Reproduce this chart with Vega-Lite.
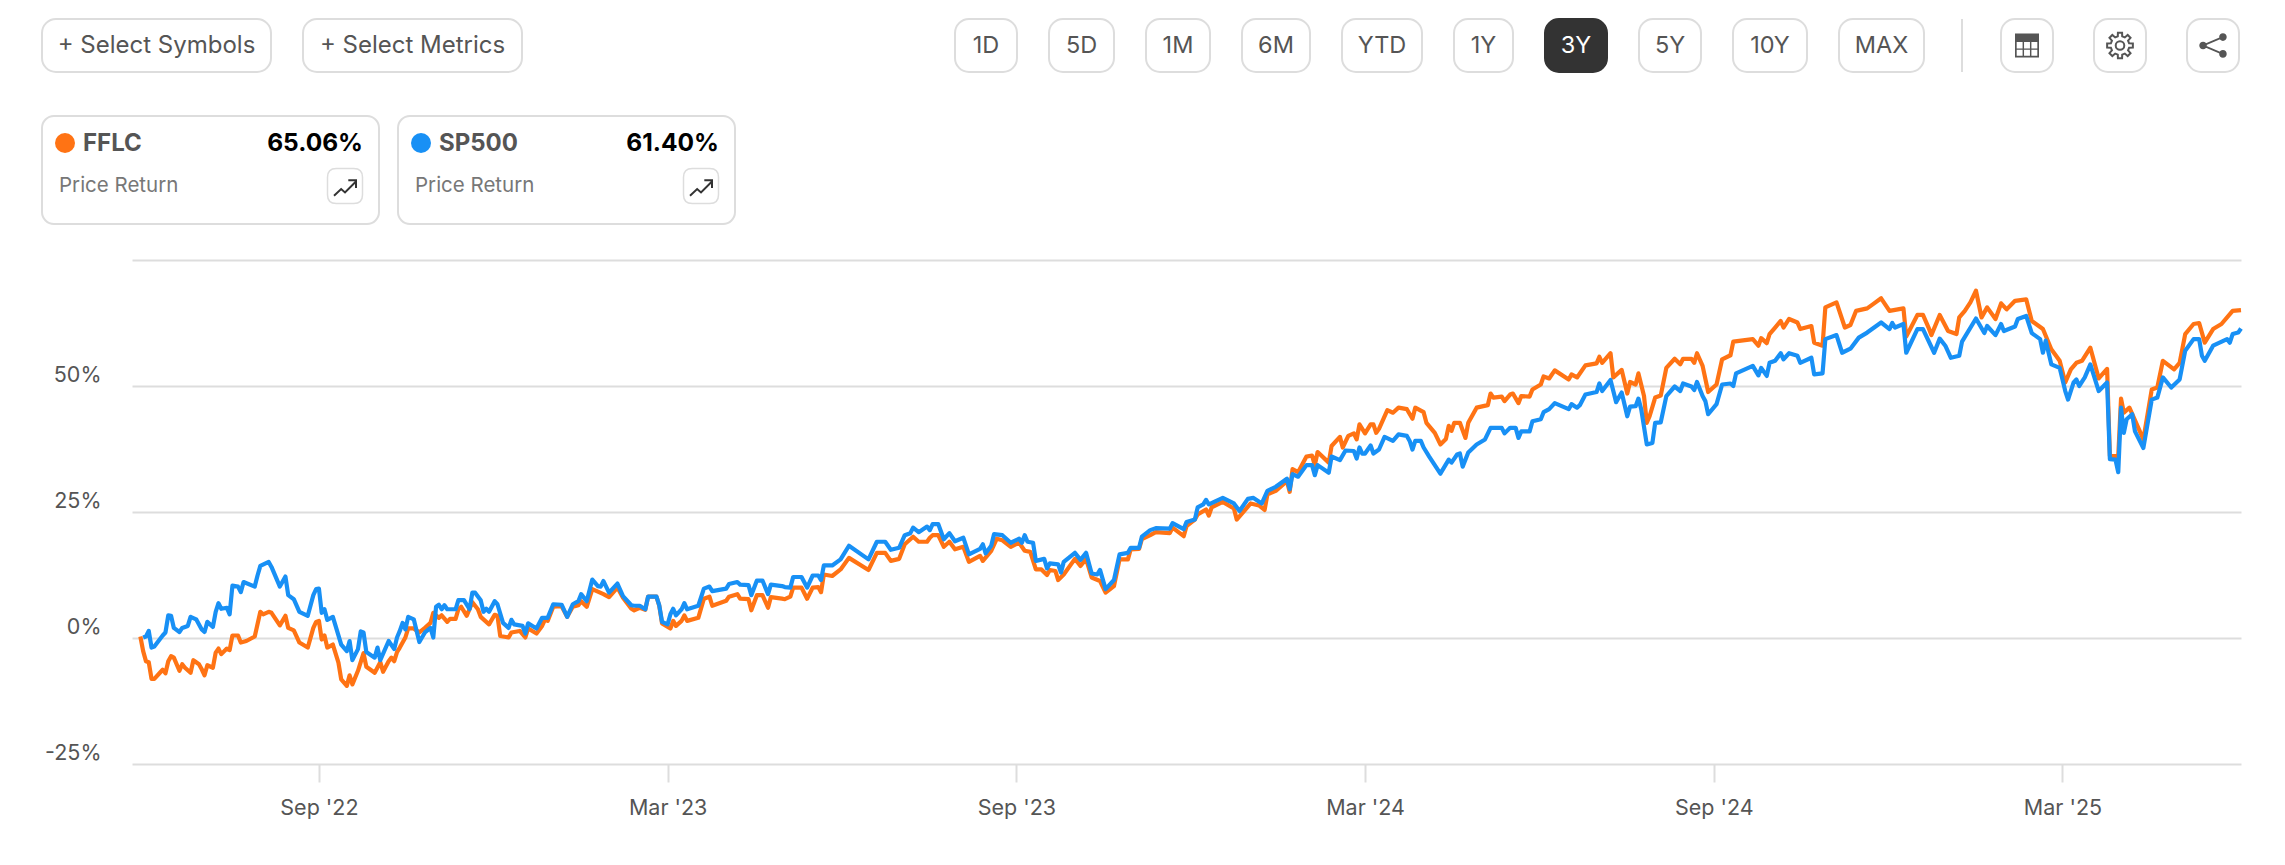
{
"$schema":"https://vega.github.io/schema/vega-lite/v6.json",
"background":"#ffffff",
"padding":{"left":41,"top":18,"right":0,"bottom":0},
"spacing":42,
"datasets":{
"fflc":[{"day":3,"ret":0.3},{"day":4,"ret":-2.6},{"day":5,"ret":-4.6},{"day":6,"ret":-4.8},{"day":7,"ret":-8.1},{"day":8,"ret":-8.1},{"day":10,"ret":-6.9},{"day":11,"ret":-6.3},{"day":12,"ret":-7},{"day":13,"ret":-4.6},{"day":14,"ret":-3.6},{"day":15,"ret":-3.9},{"day":17,"ret":-6.5},{"day":18,"ret":-5.2},{"day":19,"ret":-5.9},{"day":21,"ret":-6.9},{"day":22,"ret":-4.4},{"day":24,"ret":-5.2},{"day":25,"ret":-6.2},{"day":26,"ret":-7.4},{"day":27,"ret":-5.4},{"day":29,"ret":-5.9},{"day":30,"ret":-2.9},{"day":31,"ret":-2.1},{"day":32,"ret":-3.2},{"day":34,"ret":-2.1},{"day":35,"ret":-2.4},{"day":36,"ret":0.5},{"day":38,"ret":0.5},{"day":39,"ret":-0.9},{"day":41,"ret":-0.6},{"day":44,"ret":0.3},{"day":46,"ret":5.2},{"day":47,"ret":4.7},{"day":49,"ret":5.2},{"day":50,"ret":5},{"day":53,"ret":2.5},{"day":55,"ret":4.4},{"day":56,"ret":2},{"day":58,"ret":1.5},{"day":60,"ret":-0.9},{"day":63,"ret":-1.9},{"day":65,"ret":2},{"day":66,"ret":3.2},{"day":67,"ret":3.4},{"day":68,"ret":-0.3},{"day":69,"ret":0.5},{"day":70,"ret":-1.9},{"day":72,"ret":-1.3},{"day":74,"ret":-4.9},{"day":75,"ret":-8.2},{"day":77,"ret":-9.5},{"day":78,"ret":-7.4},{"day":79,"ret":-9.2},{"day":81,"ret":-6.5},{"day":83,"ret":-3},{"day":84,"ret":-5.7},{"day":87,"ret":-6.9},{"day":89,"ret":-4.8},{"day":90,"ret":-6.7},{"day":92,"ret":-4.6},{"day":93,"ret":-3.9},{"day":94,"ret":-4.6},{"day":95,"ret":-2.8},{"day":96,"ret":-1.9},{"day":98,"ret":0.1},{"day":99,"ret":1.9},{"day":101,"ret":1.9},{"day":103,"ret":1.1},{"day":105,"ret":2},{"day":107,"ret":3},{"day":108,"ret":5},{"day":110,"ret":4},{"day":111,"ret":4.5},{"day":113,"ret":3.2},{"day":114,"ret":3.8},{"day":116,"ret":3.8},{"day":117,"ret":5.7},{"day":118,"ret":6.2},{"day":120,"ret":4.4},{"day":122,"ret":7.1},{"day":124,"ret":5.7},{"day":125,"ret":4.2},{"day":128,"ret":2.7},{"day":130,"ret":4.6},{"day":131,"ret":4.4},{"day":132,"ret":0.4},{"day":135,"ret":0.1},{"day":136,"ret":1.1},{"day":139,"ret":1.4},{"day":141,"ret":0.1},{"day":142,"ret":1.9},{"day":145,"ret":0.9},{"day":147,"ret":2.4},{"day":148,"ret":3.6},{"day":149,"ret":3.4},{"day":151,"ret":6.2},{"day":154,"ret":6.3},{"day":156,"ret":4.2},{"day":158,"ret":6.2},{"day":160,"ret":6.5},{"day":161,"ret":7.3},{"day":163,"ret":6.2},{"day":165,"ret":9.7},{"day":169,"ret":8.7},{"day":171,"ret":8.1},{"day":174,"ret":10},{"day":176,"ret":8},{"day":179,"ret":5.8},{"day":180,"ret":5.5},{"day":182,"ret":6},{"day":184,"ret":5.6},{"day":185,"ret":8.2},{"day":188,"ret":8.2},{"day":189,"ret":6.4},{"day":190,"ret":2.9},{"day":193,"ret":1.9},{"day":194,"ret":3.4},{"day":195,"ret":2.4},{"day":197,"ret":3.4},{"day":198,"ret":4.5},{"day":199,"ret":3.4},{"day":203,"ret":4},{"day":205,"ret":7.8},{"day":207,"ret":8.2},{"day":208,"ret":6.4},{"day":213,"ret":7.4},{"day":214,"ret":8.2},{"day":217,"ret":8.7},{"day":218,"ret":7.8},{"day":221,"ret":7.7},{"day":222,"ret":5.5},{"day":224,"ret":8.5},{"day":226,"ret":8.5},{"day":228,"ret":6},{"day":229,"ret":8.1},{"day":233,"ret":7.8},{"day":234,"ret":7.7},{"day":236,"ret":8.2},{"day":237,"ret":10},{"day":240,"ret":10},{"day":242,"ret":7.8},{"day":244,"ret":10},{"day":246,"ret":10.1},{"day":247,"ret":9.1},{"day":248,"ret":12.6},{"day":251,"ret":12.3},{"day":254,"ret":13.6},{"day":257,"ret":15.9},{"day":264,"ret":13.5},{"day":267,"ret":16.9},{"day":270,"ret":16.9},{"day":272,"ret":15.3},{"day":275,"ret":15.7},{"day":277,"ret":18.6},{"day":280,"ret":20.1},{"day":282,"ret":19.1},{"day":285,"ret":19.1},{"day":286,"ret":19.9},{"day":287,"ret":20.4},{"day":289,"ret":20.4},{"day":291,"ret":18.1},{"day":293,"ret":19.1},{"day":295,"ret":17.6},{"day":298,"ret":18.1},{"day":300,"ret":15.1},{"day":304,"ret":16.3},{"day":305,"ret":15.3},{"day":308,"ret":17.3},{"day":310,"ret":19.7},{"day":312,"ret":19.4},{"day":315,"ret":18.1},{"day":318,"ret":18.9},{"day":320,"ret":17.3},{"day":322,"ret":17.1},{"day":324,"ret":13.6},{"day":326,"ret":13.6},{"day":328,"ret":12.5},{"day":329,"ret":13.5},{"day":331,"ret":13.3},{"day":332,"ret":11.5},{"day":334,"ret":12.6},{"day":338,"ret":15.7},{"day":340,"ret":14.3},{"day":342,"ret":15.7},{"day":344,"ret":12},{"day":347,"ret":11.3},{"day":349,"ret":9},{"day":352,"ret":10.3},{"day":354,"ret":15.6},{"day":357,"ret":15.6},{"day":358,"ret":17.6},{"day":361,"ret":17.7},{"day":362,"ret":19.6},{"day":365,"ret":20.4},{"day":367,"ret":21},{"day":372,"ret":20.8},{"day":373,"ret":21.9},{"day":377,"ret":20.2},{"day":378,"ret":22.2},{"day":381,"ret":23.5},{"day":382,"ret":24.5},{"day":385,"ret":25.5},{"day":386,"ret":24.3},{"day":387,"ret":25.9},{"day":391,"ret":27},{"day":395,"ret":25.7},{"day":396,"ret":23.5},{"day":401,"ret":26.7},{"day":404,"ret":26.3},{"day":406,"ret":25.4},{"day":407,"ret":28.5},{"day":410,"ret":29.2},{"day":414,"ret":31.1},{"day":415,"ret":29},{"day":416,"ret":33.5},{"day":418,"ret":32.9},{"day":421,"ret":36},{"day":423,"ret":36.2},{"day":424,"ret":34.3},{"day":425,"ret":36.9},{"day":429,"ret":34.8},{"day":430,"ret":38.1},{"day":433,"ret":39.9},{"day":434,"ret":37.8},{"day":436,"ret":40.1},{"day":438,"ret":40.6},{"day":439,"ret":39.4},{"day":440,"ret":42.4},{"day":442,"ret":40.6},{"day":444,"ret":42.4},{"day":445,"ret":42.4},{"day":446,"ret":40.7},{"day":447,"ret":41.5},{"day":450,"ret":45.2},{"day":452,"ret":44.7},{"day":454,"ret":45.7},{"day":457,"ret":45.4},{"day":459,"ret":43.5},{"day":460,"ret":45.7},{"day":463,"ret":44.8},{"day":464,"ret":42.7},{"day":467,"ret":40.7},{"day":469,"ret":38.4},{"day":471,"ret":39.5},{"day":472,"ret":42.1},{"day":473,"ret":41.1},{"day":474,"ret":42.7},{"day":476,"ret":42.7},{"day":478,"ret":39.7},{"day":479,"ret":42.7},{"day":482,"ret":45.7},{"day":486,"ret":46.2},{"day":487,"ret":48.5},{"day":488,"ret":47.7},{"day":491,"ret":47.9},{"day":492,"ret":47},{"day":494,"ret":48.3},{"day":495,"ret":48.5},{"day":497,"ret":46.6},{"day":498,"ret":48},{"day":501,"ret":47.9},{"day":502,"ret":49.3},{"day":505,"ret":50.3},{"day":506,"ret":51.9},{"day":508,"ret":51.5},{"day":510,"ret":53.1},{"day":515,"ret":51.3},{"day":516,"ret":52.3},{"day":518,"ret":51.7},{"day":521,"ret":54.1},{"day":525,"ret":54.5},{"day":526,"ret":55.8},{"day":527,"ret":54.6},{"day":530,"ret":56.5},{"day":531,"ret":51.7},{"day":534,"ret":53.2},{"day":536,"ret":48.5},{"day":537,"ret":50.8},{"day":539,"ret":50.3},{"day":540,"ret":52.5},{"day":542,"ret":48},{"day":543,"ret":42.7},{"day":544,"ret":44},{"day":546,"ret":47.7},{"day":548,"ret":48.1},{"day":550,"ret":53.6},{"day":553,"ret":55.4},{"day":555,"ret":54.3},{"day":556,"ret":55.4},{"day":559,"ret":55.4},{"day":560,"ret":54.6},{"day":561,"ret":56.5},{"day":563,"ret":54},{"day":565,"ret":48.8},{"day":568,"ret":50.3},{"day":570,"ret":55.3},{"day":573,"ret":56.1},{"day":574,"ret":58.8},{"day":581,"ret":59.3},{"day":583,"ret":58},{"day":584,"ret":59.5},{"day":586,"ret":58.5},{"day":587,"ret":60.3},{"day":589,"ret":61.6},{"day":591,"ret":62.9},{"day":592,"ret":61.6},{"day":594,"ret":63.3},{"day":597,"ret":62.6},{"day":598,"ret":61.3},{"day":602,"ret":61.9},{"day":603,"ret":58.6},{"day":606,"ret":58},{"day":607,"ret":65.6},{"day":611,"ret":66.6},{"day":614,"ret":61.6},{"day":616,"ret":62.1},{"day":618,"ret":64.9},{"day":622,"ret":65.4},{"day":624,"ret":66.2},{"day":627,"ret":67.4},{"day":630,"ret":64.9},{"day":635,"ret":65.4},{"day":636,"ret":59.8},{"day":640,"ret":64.1},{"day":642,"ret":64.1},{"day":644,"ret":61.6},{"day":645,"ret":60.1},{"day":648,"ret":64.1},{"day":651,"ret":60.9},{"day":654,"ret":60.3},{"day":655,"ret":63.6},{"day":657,"ret":64.9},{"day":659,"ret":66.6},{"day":661,"ret":68.9},{"day":663,"ret":63.6},{"day":665,"ret":65.6},{"day":668,"ret":63.3},{"day":670,"ret":66.4},{"day":672,"ret":65.2},{"day":675,"ret":66.9},{"day":679,"ret":67.2},{"day":681,"ret":62.9},{"day":685,"ret":61.3},{"day":688,"ret":57.3},{"day":691,"ret":55},{"day":693,"ret":50.7},{"day":695,"ret":53.3},{"day":697,"ret":54.6},{"day":699,"ret":55},{"day":702,"ret":57.6},{"day":705,"ret":51.5},{"day":708,"ret":53.4},{"day":709,"ret":36.1},{"day":712,"ret":36.1},{"day":713,"ret":47.5},{"day":714,"ret":44.7},{"day":716,"ret":45.7},{"day":721,"ret":39.4},{"day":724,"ret":49.3},{"day":726,"ret":49.7},{"day":728,"ret":55},{"day":732,"ret":53.3},{"day":734,"ret":54.6},{"day":736,"ret":60.3},{"day":739,"ret":62.3},{"day":741,"ret":62.5},{"day":743,"ret":58.6},{"day":746,"ret":61.3},{"day":749,"ret":62.3},{"day":753,"ret":64.9},{"day":756,"ret":65.06}],
"sp500":[{"day":4,"ret":0.1},{"day":5,"ret":0.3},{"day":6,"ret":1.4},{"day":7,"ret":-1.9},{"day":8,"ret":-1.7},{"day":11,"ret":0.5},{"day":12,"ret":1.1},{"day":13,"ret":4.5},{"day":14,"ret":4.4},{"day":15,"ret":2},{"day":17,"ret":1.2},{"day":18,"ret":2},{"day":20,"ret":2.4},{"day":21,"ret":4.2},{"day":23,"ret":3.7},{"day":25,"ret":1.7},{"day":26,"ret":1.2},{"day":27,"ret":3.2},{"day":29,"ret":2.2},{"day":30,"ret":5.2},{"day":31,"ret":6.9},{"day":32,"ret":5.8},{"day":34,"ret":6},{"day":35,"ret":4.7},{"day":36,"ret":10.4},{"day":38,"ret":10.2},{"day":39,"ret":9.1},{"day":40,"ret":11.1},{"day":44,"ret":10.2},{"day":45,"ret":12.4},{"day":46,"ret":14.3},{"day":49,"ret":15.1},{"day":50,"ret":14.1},{"day":53,"ret":10.2},{"day":55,"ret":12.2},{"day":56,"ret":8.5},{"day":58,"ret":7.7},{"day":60,"ret":5.2},{"day":63,"ret":4.4},{"day":65,"ret":8.5},{"day":66,"ret":9.7},{"day":67,"ret":9.8},{"day":68,"ret":5},{"day":69,"ret":5.7},{"day":70,"ret":3.6},{"day":72,"ret":4.2},{"day":75,"ret":-1.3},{"day":77,"ret":-2.6},{"day":78,"ret":-0.6},{"day":79,"ret":-4.4},{"day":81,"ret":-2.2},{"day":82,"ret":1.3},{"day":83,"ret":1.1},{"day":84,"ret":-2.8},{"day":87,"ret":-3.9},{"day":88,"ret":-1.9},{"day":89,"ret":-4.4},{"day":92,"ret":-0.6},{"day":94,"ret":-2.2},{"day":95,"ret":0.1},{"day":96,"ret":1.4},{"day":97,"ret":3},{"day":98,"ret":1.7},{"day":99,"ret":4.2},{"day":101,"ret":3.7},{"day":103,"ret":-0.8},{"day":105,"ret":1.1},{"day":107,"ret":2},{"day":108,"ret":0.1},{"day":109,"ret":6.2},{"day":110,"ret":6.6},{"day":111,"ret":5.7},{"day":112,"ret":6.5},{"day":113,"ret":5.7},{"day":116,"ret":5.7},{"day":117,"ret":7.5},{"day":119,"ret":7.5},{"day":121,"ret":5.7},{"day":122,"ret":9},{"day":123,"ret":9},{"day":125,"ret":7.5},{"day":126,"ret":5.2},{"day":127,"ret":5.8},{"day":128,"ret":5.2},{"day":130,"ret":7.3},{"day":131,"ret":6.7},{"day":133,"ret":3},{"day":135,"ret":2},{"day":136,"ret":3.6},{"day":137,"ret":2.7},{"day":140,"ret":2.4},{"day":141,"ret":0.9},{"day":142,"ret":2.9},{"day":145,"ret":1.9},{"day":147,"ret":4},{"day":149,"ret":4},{"day":151,"ret":6.7},{"day":154,"ret":6.6},{"day":156,"ret":4.2},{"day":158,"ret":6.7},{"day":160,"ret":7.3},{"day":161,"ret":8.7},{"day":163,"ret":7.3},{"day":165,"ret":11.6},{"day":167,"ret":10.3},{"day":168,"ret":10.2},{"day":169,"ret":11.3},{"day":171,"ret":9},{"day":174,"ret":10.8},{"day":176,"ret":8.3},{"day":179,"ret":6.5},{"day":180,"ret":6.4},{"day":182,"ret":6.4},{"day":184,"ret":5.7},{"day":185,"ret":8.2},{"day":188,"ret":8.2},{"day":189,"ret":6.5},{"day":190,"ret":3.2},{"day":192,"ret":2.7},{"day":193,"ret":4.7},{"day":194,"ret":5.8},{"day":195,"ret":4.5},{"day":197,"ret":5.7},{"day":198,"ret":6.9},{"day":199,"ret":5.7},{"day":203,"ret":6.4},{"day":205,"ret":9.8},{"day":207,"ret":10.2},{"day":208,"ret":9.3},{"day":213,"ret":9.8},{"day":214,"ret":10.7},{"day":217,"ret":11.1},{"day":218,"ret":10.6},{"day":221,"ret":10.5},{"day":222,"ret":8.5},{"day":224,"ret":11.4},{"day":226,"ret":11.4},{"day":228,"ret":8.7},{"day":229,"ret":10.6},{"day":233,"ret":10.3},{"day":234,"ret":10.1},{"day":236,"ret":10},{"day":237,"ret":12.1},{"day":240,"ret":12.1},{"day":242,"ret":10},{"day":244,"ret":12.4},{"day":246,"ret":12.4},{"day":247,"ret":11.5},{"day":248,"ret":14.4},{"day":251,"ret":14.4},{"day":254,"ret":15.6},{"day":257,"ret":18.3},{"day":264,"ret":15.6},{"day":267,"ret":19.1},{"day":270,"ret":19.1},{"day":272,"ret":17.5},{"day":275,"ret":17.9},{"day":277,"ret":20.4},{"day":279,"ret":20.8},{"day":280,"ret":21.9},{"day":282,"ret":21},{"day":285,"ret":22.1},{"day":286,"ret":21.4},{"day":287,"ret":22.6},{"day":289,"ret":22.6},{"day":291,"ret":19.6},{"day":293,"ret":20.8},{"day":295,"ret":19.2},{"day":298,"ret":19.9},{"day":300,"ret":16.6},{"day":304,"ret":17.7},{"day":305,"ret":18.6},{"day":306,"ret":16.8},{"day":308,"ret":18.3},{"day":309,"ret":20.6},{"day":312,"ret":20.4},{"day":315,"ret":18.9},{"day":318,"ret":19.7},{"day":319,"ret":18.9},{"day":320,"ret":20.4},{"day":321,"ret":19.1},{"day":323,"ret":18.9},{"day":324,"ret":15.3},{"day":327,"ret":15.7},{"day":328,"ret":13.8},{"day":329,"ret":14.8},{"day":332,"ret":14.6},{"day":333,"ret":13},{"day":334,"ret":15.1},{"day":338,"ret":16.9},{"day":340,"ret":15.5},{"day":342,"ret":16.9},{"day":344,"ret":12.8},{"day":346,"ret":12.6},{"day":347,"ret":13.5},{"day":349,"ret":9.7},{"day":352,"ret":11.5},{"day":354,"ret":16.6},{"day":357,"ret":16.9},{"day":358,"ret":17.9},{"day":361,"ret":17.9},{"day":362,"ret":20.1},{"day":365,"ret":21.4},{"day":367,"ret":21.8},{"day":372,"ret":21.7},{"day":373,"ret":22.8},{"day":377,"ret":21.6},{"day":378,"ret":23},{"day":381,"ret":23.5},{"day":382,"ret":25.9},{"day":384,"ret":26.5},{"day":385,"ret":27.4},{"day":386,"ret":26.5},{"day":391,"ret":27.8},{"day":395,"ret":26.7},{"day":397,"ret":25.2},{"day":400,"ret":27.6},{"day":402,"ret":27.8},{"day":405,"ret":26.7},{"day":407,"ret":29.2},{"day":410,"ret":30},{"day":414,"ret":31.6},{"day":415,"ret":29.5},{"day":416,"ret":32.5},{"day":418,"ret":32},{"day":421,"ret":34.3},{"day":423,"ret":34.3},{"day":424,"ret":32.3},{"day":425,"ret":34.3},{"day":429,"ret":32.8},{"day":430,"ret":36},{"day":433,"ret":35.3},{"day":435,"ret":37.2},{"day":438,"ret":37.1},{"day":439,"ret":35.6},{"day":440,"ret":37.8},{"day":441,"ret":36.6},{"day":442,"ret":36.6},{"day":444,"ret":38.2},{"day":445,"ret":36.6},{"day":447,"ret":37.4},{"day":449,"ret":39.9},{"day":452,"ret":39.1},{"day":454,"ret":40.4},{"day":457,"ret":40.1},{"day":458,"ret":39.1},{"day":459,"ret":37.4},{"day":460,"ret":39.1},{"day":462,"ret":39.1},{"day":463,"ret":37.8},{"day":465,"ret":36},{"day":469,"ret":32.6},{"day":472,"ret":35.4},{"day":473,"ret":34.8},{"day":475,"ret":36.4},{"day":476,"ret":36.6},{"day":477,"ret":34},{"day":479,"ret":36.8},{"day":482,"ret":38.4},{"day":485,"ret":39.4},{"day":487,"ret":41.7},{"day":491,"ret":41.7},{"day":492,"ret":40.6},{"day":494,"ret":41.7},{"day":496,"ret":41.7},{"day":497,"ret":39.7},{"day":498,"ret":41},{"day":501,"ret":41},{"day":502,"ret":43},{"day":505,"ret":43.4},{"day":506,"ret":44.8},{"day":508,"ret":45.4},{"day":510,"ret":46.6},{"day":515,"ret":45.4},{"day":516,"ret":46.4},{"day":518,"ret":45.7},{"day":519,"ret":46.2},{"day":521,"ret":48.3},{"day":525,"ret":48.8},{"day":526,"ret":50.5},{"day":527,"ret":49},{"day":530,"ret":51.2},{"day":532,"ret":46.8},{"day":534,"ret":48.7},{"day":536,"ret":44},{"day":537,"ret":45.9},{"day":539,"ret":46},{"day":540,"ret":47.5},{"day":541,"ret":45.4},{"day":543,"ret":38.4},{"day":545,"ret":38.7},{"day":546,"ret":42.7},{"day":548,"ret":42.8},{"day":550,"ret":48},{"day":553,"ret":49.9},{"day":555,"ret":49},{"day":556,"ret":50.5},{"day":559,"ret":49.9},{"day":560,"ret":49.2},{"day":561,"ret":50.8},{"day":563,"ret":48},{"day":564,"ret":47},{"day":565,"ret":44.4},{"day":568,"ret":46.4},{"day":570,"ret":50.3},{"day":573,"ret":50.5},{"day":574,"ret":50},{"day":575,"ret":52.5},{"day":581,"ret":54},{"day":583,"ret":52.1},{"day":584,"ret":53.6},{"day":586,"ret":52},{"day":587,"ret":54.6},{"day":589,"ret":55},{"day":591,"ret":56.5},{"day":592,"ret":55.3},{"day":594,"ret":56.5},{"day":597,"ret":56},{"day":598,"ret":54.6},{"day":602,"ret":55.6},{"day":603,"ret":52.3},{"day":606,"ret":52.5},{"day":607,"ret":59.3},{"day":611,"ret":60.1},{"day":613,"ret":56.6},{"day":616,"ret":57.4},{"day":619,"ret":59.6},{"day":622,"ret":60.6},{"day":627,"ret":62.6},{"day":630,"ret":61.3},{"day":631,"ret":62.5},{"day":632,"ret":61.6},{"day":635,"ret":62.3},{"day":636,"ret":56.6},{"day":640,"ret":61.3},{"day":642,"ret":61.3},{"day":646,"ret":56.6},{"day":648,"ret":59.4},{"day":650,"ret":58},{"day":652,"ret":55.6},{"day":655,"ret":56},{"day":656,"ret":58.8},{"day":661,"ret":63.4},{"day":664,"ret":60.5},{"day":665,"ret":61.9},{"day":668,"ret":60.1},{"day":670,"ret":62.3},{"day":671,"ret":60.9},{"day":675,"ret":61.8},{"day":676,"ret":63.3},{"day":679,"ret":63.9},{"day":681,"ret":60.5},{"day":684,"ret":59.3},{"day":685,"ret":56.6},{"day":686,"ret":59},{"day":688,"ret":54.3},{"day":691,"ret":53.6},{"day":693,"ret":49},{"day":694,"ret":47.3},{"day":696,"ret":50.7},{"day":697,"ret":51.3},{"day":698,"ret":50},{"day":700,"ret":51.7},{"day":702,"ret":54.3},{"day":705,"ret":49},{"day":708,"ret":50.7},{"day":709,"ret":35.5},{"day":711,"ret":35.4},{"day":712,"ret":32.9},{"day":713,"ret":45.7},{"day":714,"ret":40.7},{"day":715,"ret":43.4},{"day":717,"ret":44.4},{"day":718,"ret":41},{"day":721,"ret":37.7},{"day":724,"ret":47.3},{"day":726,"ret":47.7},{"day":728,"ret":51.7},{"day":731,"ret":49.7},{"day":734,"ret":51.3},{"day":736,"ret":57},{"day":739,"ret":59.3},{"day":741,"ret":59.3},{"day":742,"ret":56},{"day":743,"ret":55},{"day":746,"ret":58},{"day":751,"ret":59.3},{"day":752,"ret":58.6},{"day":753,"ret":60.3},{"day":755,"ret":60.6},{"day":756,"ret":61.4}]
},
"vconcat":[
{"spacing":30,"hconcat":[
{"width":229,"height":53,"view":{"stroke":"#dddddd","strokeWidth":2,"cornerRadius":14},"data":{"values":[{"label":"+ Select Symbols"}]},"mark":{"type":"text","fontSize":24,"color":"#555555"},"encoding":{"text":{"field":"label"}}},
{"width":219,"height":53,"view":{"stroke":"#dddddd","strokeWidth":2,"cornerRadius":14},"data":{"values":[{"label":"+ Select Metrics"}]},"mark":{"type":"text","fontSize":24,"color":"#555555"},"encoding":{"text":{"field":"label"}}},
{"width":371,"height":53,"data":{"values":[{"label":""}]},"mark":{"type":"text"},"encoding":{"text":{"field":"label"}}},
{"width":62,"height":53,"view":{"stroke":"#dddddd","strokeWidth":2,"cornerRadius":14},"data":{"values":[{"label":"1D"}]},"mark":{"type":"text","fontSize":23.5,"color":"#555555"},"encoding":{"text":{"field":"label"}}},
{"width":65,"height":53,"view":{"stroke":"#dddddd","strokeWidth":2,"cornerRadius":14},"data":{"values":[{"label":"5D"}]},"mark":{"type":"text","fontSize":23.5,"color":"#555555"},"encoding":{"text":{"field":"label"}}},
{"width":64,"height":53,"view":{"stroke":"#dddddd","strokeWidth":2,"cornerRadius":14},"data":{"values":[{"label":"1M"}]},"mark":{"type":"text","fontSize":23.5,"color":"#555555"},"encoding":{"text":{"field":"label"}}},
{"width":68,"height":53,"view":{"stroke":"#dddddd","strokeWidth":2,"cornerRadius":14},"data":{"values":[{"label":"6M"}]},"mark":{"type":"text","fontSize":23.5,"color":"#555555"},"encoding":{"text":{"field":"label"}}},
{"width":80,"height":53,"view":{"stroke":"#dddddd","strokeWidth":2,"cornerRadius":14},"data":{"values":[{"label":"YTD"}]},"mark":{"type":"text","fontSize":23.5,"color":"#555555"},"encoding":{"text":{"field":"label"}}},
{"width":59,"height":53,"view":{"stroke":"#dddddd","strokeWidth":2,"cornerRadius":14},"data":{"values":[{"label":"1Y"}]},"mark":{"type":"text","fontSize":23.5,"color":"#555555"},"encoding":{"text":{"field":"label"}}},
{"width":62,"height":53,"view":{"fill":"#333333","stroke":"#333333","strokeWidth":2,"cornerRadius":14},"data":{"values":[{"label":"3Y"}]},"mark":{"type":"text","fontSize":23.5,"color":"#ffffff"},"encoding":{"text":{"field":"label"}}},
{"width":62,"height":53,"view":{"stroke":"#dddddd","strokeWidth":2,"cornerRadius":14},"data":{"values":[{"label":"5Y"}]},"mark":{"type":"text","fontSize":23.5,"color":"#555555"},"encoding":{"text":{"field":"label"}}},
{"width":74,"height":53,"view":{"stroke":"#dddddd","strokeWidth":2,"cornerRadius":14},"data":{"values":[{"label":"10Y"}]},"mark":{"type":"text","fontSize":23.5,"color":"#555555"},"encoding":{"text":{"field":"label"}}},
{"width":85,"height":53,"view":{"stroke":"#dddddd","strokeWidth":2,"cornerRadius":14},"data":{"values":[{"label":"MAX"}]},"mark":{"type":"text","fontSize":23.5,"color":"#555555"},"encoding":{"text":{"field":"label"}}},
{"spacing":0,"hconcat":[
{"width":6,"height":53,"data":{"values":[{"label":""}]},"mark":{"type":"text"},"encoding":{"text":{"field":"label"}}},
{"width":2,"height":53,"view":{"fill":"#dddddd"},"data":{"values":[{"label":""}]},"mark":{"type":"text"},"encoding":{"text":{"field":"label"}}},
{"width":6.5,"height":53,"data":{"values":[{"label":""}]},"mark":{"type":"text"},"encoding":{"text":{"field":"label"}}}
]},
{"spacing":39,"hconcat":[
{"width":52,"height":53,"view":{"stroke":"#dddddd","strokeWidth":2,"cornerRadius":14},"data":{"values":[{"icon":"table"}]},"mark":{"type":"point","filled":true,"color":"#555555","opacity":1,"size":576,"shape":"M-1,-1 H1 V1 H-1 Z M-.86,-.3 V.24 H-.367 V-.3 Z M-.247,-.3 V.24 H.247 V-.3 Z M.367,-.3 V.24 H.86 V-.3 Z M-.86,.36 V.86 H-.367 V.36 Z M-.247,.36 V.86 H.247 V.36 Z M.367,.36 V.86 H.86 V.36 Z"}},
{"width":52,"height":53,"view":{"stroke":"#dddddd","strokeWidth":2,"cornerRadius":14},"data":{"values":[{"icon":"settings"}]},"mark":{"type":"point","filled":false,"color":"#555555","opacity":1,"strokeWidth":2,"size":676,"shape":"M.70,-.17 L.99,-.16 L.99,.16 L.70,.17 L.62,.37 L.81,.59 L.59,.81 L.37,.62 L.17,.70 L.16,.99 L-.16,.99 L-.17,.70 L-.37,.62 L-.59,.81 L-.81,.59 L-.62,.37 L-.70,.17 L-.99,.16 L-.99,-.16 L-.70,-.17 L-.62,-.37 L-.81,-.59 L-.59,-.81 L-.37,-.62 L-.17,-.70 L-.16,-.99 L.16,-.99 L.17,-.70 L.37,-.62 L.59,-.81 L.81,-.59 L.62,-.37 Z M.33,0 A.33,.33 0 1 1 -.33,0 A.33,.33 0 1 1 .33,0 Z"}},
{"width":52,"height":53,"view":{"stroke":"#dddddd","strokeWidth":2,"cornerRadius":14},"data":{"values":[{"icon":"share"}]},"mark":{"type":"point","filled":true,"color":"#555555","opacity":1,"size":784,"shape":"M-.71,-.07 L.71,-.67 L.71,-.53 L-.71,.07 Z M-.71,-.07 L.71,.53 L.71,.67 L-.71,.07 Z M-.44,0 A.27,.27 0 1 1 -.98,0 A.27,.27 0 1 1 -.44,0 Z M.98,-.6 A.27,.27 0 1 1 .44,-.6 A.27,.27 0 1 1 .98,-.6 Z M.98,.6 A.27,.27 0 1 1 .44,.6 A.27,.27 0 1 1 .98,.6 Z"}}
]}
]},
{"spacing":35,"vconcat":[
{"bounds":"flush","spacing":19,"hconcat":[
{"width":337,"height":108,"view":{"stroke":"#dddddd","strokeWidth":2,"cornerRadius":12},"data":{"values":[{"symbol":"FFLC","total":"65.06%","metric":"Price Return"}]},"layer":[
{"mark":{"type":"point","shape":"circle","filled":true,"opacity":1,"size":400,"color":"#ff7314","xOffset":-145.5,"yOffset":-27}},
{"mark":{"type":"text","align":"left","baseline":"middle","fontSize":24,"fontWeight":700,"color":"#555555","xOffset":-127.5,"yOffset":-26},"encoding":{"text":{"field":"symbol"}}},
{"mark":{"type":"text","align":"right","baseline":"middle","fontSize":24.5,"fontWeight":700,"color":"#000000","xOffset":152.5,"yOffset":-26},"encoding":{"text":{"field":"total"}}},
{"mark":{"type":"text","align":"left","baseline":"middle","fontSize":20.5,"color":"#777777","xOffset":-151.5,"yOffset":16},"encoding":{"text":{"field":"metric"}}},
{"mark":{"type":"point","filled":false,"opacity":1,"color":"#dddddd","strokeWidth":1.5,"size":1225,"xOffset":134.5,"yOffset":16,"shape":"M-.5,-1 H.5 Q1,-1 1,-.5 V.5 Q1,1 .5,1 H-.5 Q-1,1 -1,.5 V-.5 Q-1,-1 -.5,-1 Z"}},
{"mark":{"type":"point","filled":false,"opacity":1,"color":"#333333","strokeWidth":2,"size":484,"xOffset":134.5,"yOffset":18,"shape":"M-1,.7 L-.35,.1 L0,.4 L.95,-.55 M.3,-.7 H1 V0"}}
]},
{"width":337,"height":108,"view":{"stroke":"#dddddd","strokeWidth":2,"cornerRadius":12},"data":{"values":[{"symbol":"SP500","total":"61.40%","metric":"Price Return"}]},"layer":[
{"mark":{"type":"point","shape":"circle","filled":true,"opacity":1,"size":400,"color":"#1890f5","xOffset":-145.5,"yOffset":-27}},
{"mark":{"type":"text","align":"left","baseline":"middle","fontSize":24,"fontWeight":700,"color":"#555555","xOffset":-127.5,"yOffset":-26},"encoding":{"text":{"field":"symbol"}}},
{"mark":{"type":"text","align":"right","baseline":"middle","fontSize":24.5,"fontWeight":700,"color":"#000000","xOffset":152.5,"yOffset":-26},"encoding":{"text":{"field":"total"}}},
{"mark":{"type":"text","align":"left","baseline":"middle","fontSize":20.5,"color":"#777777","xOffset":-151.5,"yOffset":16},"encoding":{"text":{"field":"metric"}}},
{"mark":{"type":"point","filled":false,"opacity":1,"color":"#dddddd","strokeWidth":1.5,"size":1225,"xOffset":134.5,"yOffset":16,"shape":"M-.5,-1 H.5 Q1,-1 1,-.5 V.5 Q1,1 .5,1 H-.5 Q-1,1 -1,.5 V-.5 Q-1,-1 -.5,-1 Z"}},
{"mark":{"type":"point","filled":false,"opacity":1,"color":"#333333","strokeWidth":2,"size":484,"xOffset":134.5,"yOffset":18,"shape":"M-1,.7 L-.35,.1 L0,.4 L.95,-.55 M.3,-.7 H1 V0"}}
]}
]},
{"bounds":"flush","spacing":0,"hconcat":[
{"width":90,"height":504,"data":{"values":[{"label":""}]},"mark":{"type":"text"},"encoding":{"text":{"field":"label"}}},
{"width":2109,"height":504,
"encoding":{
"x":{"field":"day","type":"quantitative","title":null,"scale":{"domain":[0,756],"nice":false,"zero":false},
"axis":{"values":[67,192,317,442,567,692],"grid":false,"domain":false,"ticks":true,"tickSize":18,"tickWidth":2,"tickColor":"#dddddd","labelPadding":15,"labelFontSize":21.5,"labelColor":"#555555","labelExpr":"[\"Sep '22\",\"Mar '23\",\"Sep '23\",\"Mar '24\",\"Sep '24\",\"Mar '25\"][(datum.value-67)/125]"}},
"y":{"field":"ret","type":"quantitative","title":null,"scale":{"domain":[-25,75],"nice":false,"zero":false},
"axis":{"values":[-25,0,25,50,75],"grid":true,"gridColor":"#dddddd","gridWidth":2,"domain":false,"ticks":false,"labelPadding":31,"labelOffset":-11,"labelFontSize":21.5,"labelColor":"#555555","labelExpr":"datum.value==75?'':datum.value+'%'"}}
},
"layer":[
{"data":{"name":"fflc"},"mark":{"type":"line","color":"#ff7314","strokeWidth":4.2,"strokeJoin":"round"}},
{"data":{"name":"sp500"},"mark":{"type":"line","color":"#1890f5","strokeWidth":4.2,"strokeJoin":"round"}}
]}
]}
]}
],
"config":{"font":"Inter","view":{"stroke":null},"text":{"font":"Inter"},"axis":{"labelFont":"Inter"}}
}
